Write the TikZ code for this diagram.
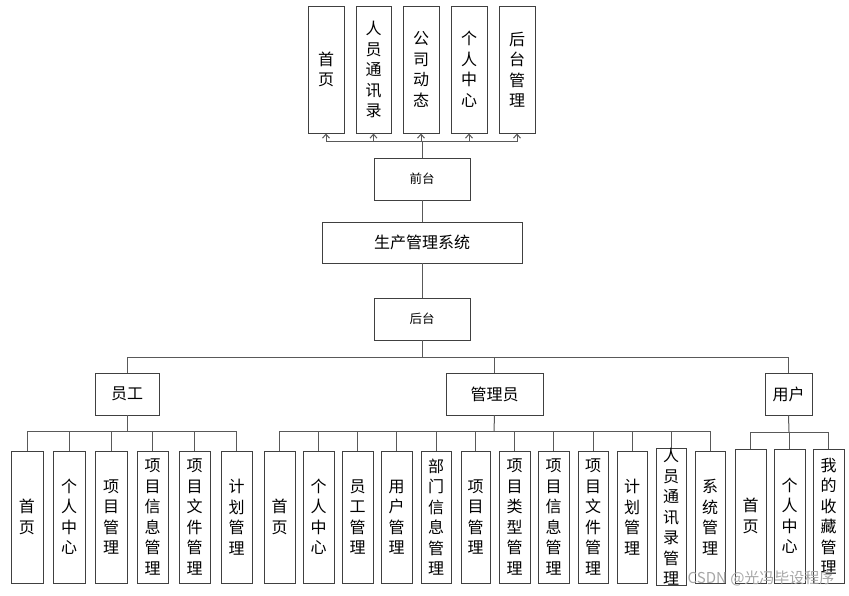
\documentclass[tikz,border=0pt]{standalone}
\usepackage{fontspec}
\setmainfont{Noto Sans CJK SC}
\usetikzlibrary{arrows.meta}
\newcommand{\bx}[6]{\node[bx,minimum width={#4-#2},minimum height={#5-#3}] (#1) at ({(#2+#4)/2},{(#3+#5)/2}) {#6};}
\tikzset{
  bx/.style={draw=black!75,line width=0.9pt,inner sep=0pt,align=center,font=\fontsize{16}{20.5}\selectfont},
  ln/.style={draw=black!65,line width=1pt},
  arr/.style={ln,-{Straight Barb[length=4pt,width=7pt]}}
}
\begin{document}
\begin{tikzpicture}[x=1pt,y=-1pt]
\useasboundingbox (0,0) rectangle (849,596);
% top
\bx{t1}{308}{6}{344}{133}{首\\页}
\bx{t2}{356}{6}{391}{133}{人\\员\\通\\讯\\录}
\bx{t3}{403}{6}{439}{133}{公\\司\\动\\态}
\bx{t4}{451}{6}{487}{133}{个\\人\\中\\心}
\bx{t5}{499}{6}{535}{133}{后\\台\\管\\理}
\bx{qt}{374}{158}{470}{200}{\fontsize{12.5}{14}\selectfont 前台}
\bx{sys}{322}{222}{522}{263}{生产管理系统}
\bx{ht}{374}{298}{470}{340}{\fontsize{12.5}{14}\selectfont 后台}
\coordinate (tj) at (422,142);
\draw[ln] (qt.north) -- (tj);
\foreach \n in {t1,t2,t3,t4,t5} \draw[arr] (tj) -| (\n.south);
\draw[ln] (qt.south) -- (sys.north);
\draw[ln] (sys.south) -- (ht.north);
% roles
\bx{yg}{95}{373}{159}{415}{员工}
\bx{gl}{446}{373}{543}{415}{管理员}
\bx{yh}{765}{373}{812}{415}{用户}
\coordinate (hj) at (422,357);
\draw[ln] (ht.south) -- (hj);
\foreach \n in {yg,gl,yh} \draw[ln] (hj) -| (\n.north);
% employee
\bx{a1}{11}{451}{43}{583}{首\\页}
\bx{a2}{53}{451}{85}{583}{个\\人\\中\\心}
\bx{a3}{95}{451}{127}{583}{项\\目\\管\\理}
\bx{a4}{137}{451}{168}{583}{项\\目\\信\\息\\管\\理}
\bx{a5}{179}{451}{210}{583}{项\\目\\文\\件\\管\\理}
\bx{a6}{221}{451}{252}{583}{计\\划\\管\\理}
\coordinate (aj) at (127,431);
\draw[ln] (yg.south) -- (aj);
\foreach \n in {a1,a2,a3,a4,a5,a6} \draw[ln] (aj) -| (\n.north);
% admin
\bx{b1}{264}{451}{295}{583}{首\\页}
\bx{b2}{303}{451}{334}{583}{个\\人\\中\\心}
\bx{b3}{342}{451}{373}{583}{员\\工\\管\\理}
\bx{b4}{381}{451}{412}{583}{用\\户\\管\\理}
\bx{b5}{421}{451}{451}{583}{部\\门\\信\\息\\管\\理}
\bx{b6}{461}{451}{490}{583}{项\\目\\管\\理}
\bx{b7}{499}{451}{530}{583}{项\\目\\类\\型\\管\\理}
\bx{b8}{538}{451}{569}{583}{项\\目\\信\\息\\管\\理}
\bx{b9}{578}{451}{608}{583}{项\\目\\文\\件\\管\\理}
\bx{b10}{617}{451}{647}{583}{计\\划\\管\\理}
\bx{b11}{656}{451}{686}{583}{人\\员\\通\\讯\\录\\管\\理}
\bx{b12}{695}{451}{725}{583}{系\\统\\管\\理}
\coordinate (bj) at (494,431);
\draw[ln] (gl.south) -- (bj);
\foreach \n in {b1,b2,b3,b4,b5,b6,b7,b8,b9,b10,b11,b12} \draw[ln] (bj) -| (\n.north);
% user
\bx{c1}{735}{449}{766}{583}{首\\页}
\bx{c2}{774}{449}{805}{583}{个\\人\\中\\心}
\bx{c3}{813}{449}{844}{583}{我\\的\\收\\藏\\管\\理}
\coordinate (cj) at (789,432);
\draw[ln] (yh.south) -- (cj);
\foreach \n in {c1,c2,c3} \draw[ln] (cj) -| (\n.north);
% watermark
\node[text=black!35,font=\fontsize{15}{15}\selectfont,anchor=east] (wm) at (838,578) {CSDN @光冯毕设程序};
\end{tikzpicture}
\end{document}
